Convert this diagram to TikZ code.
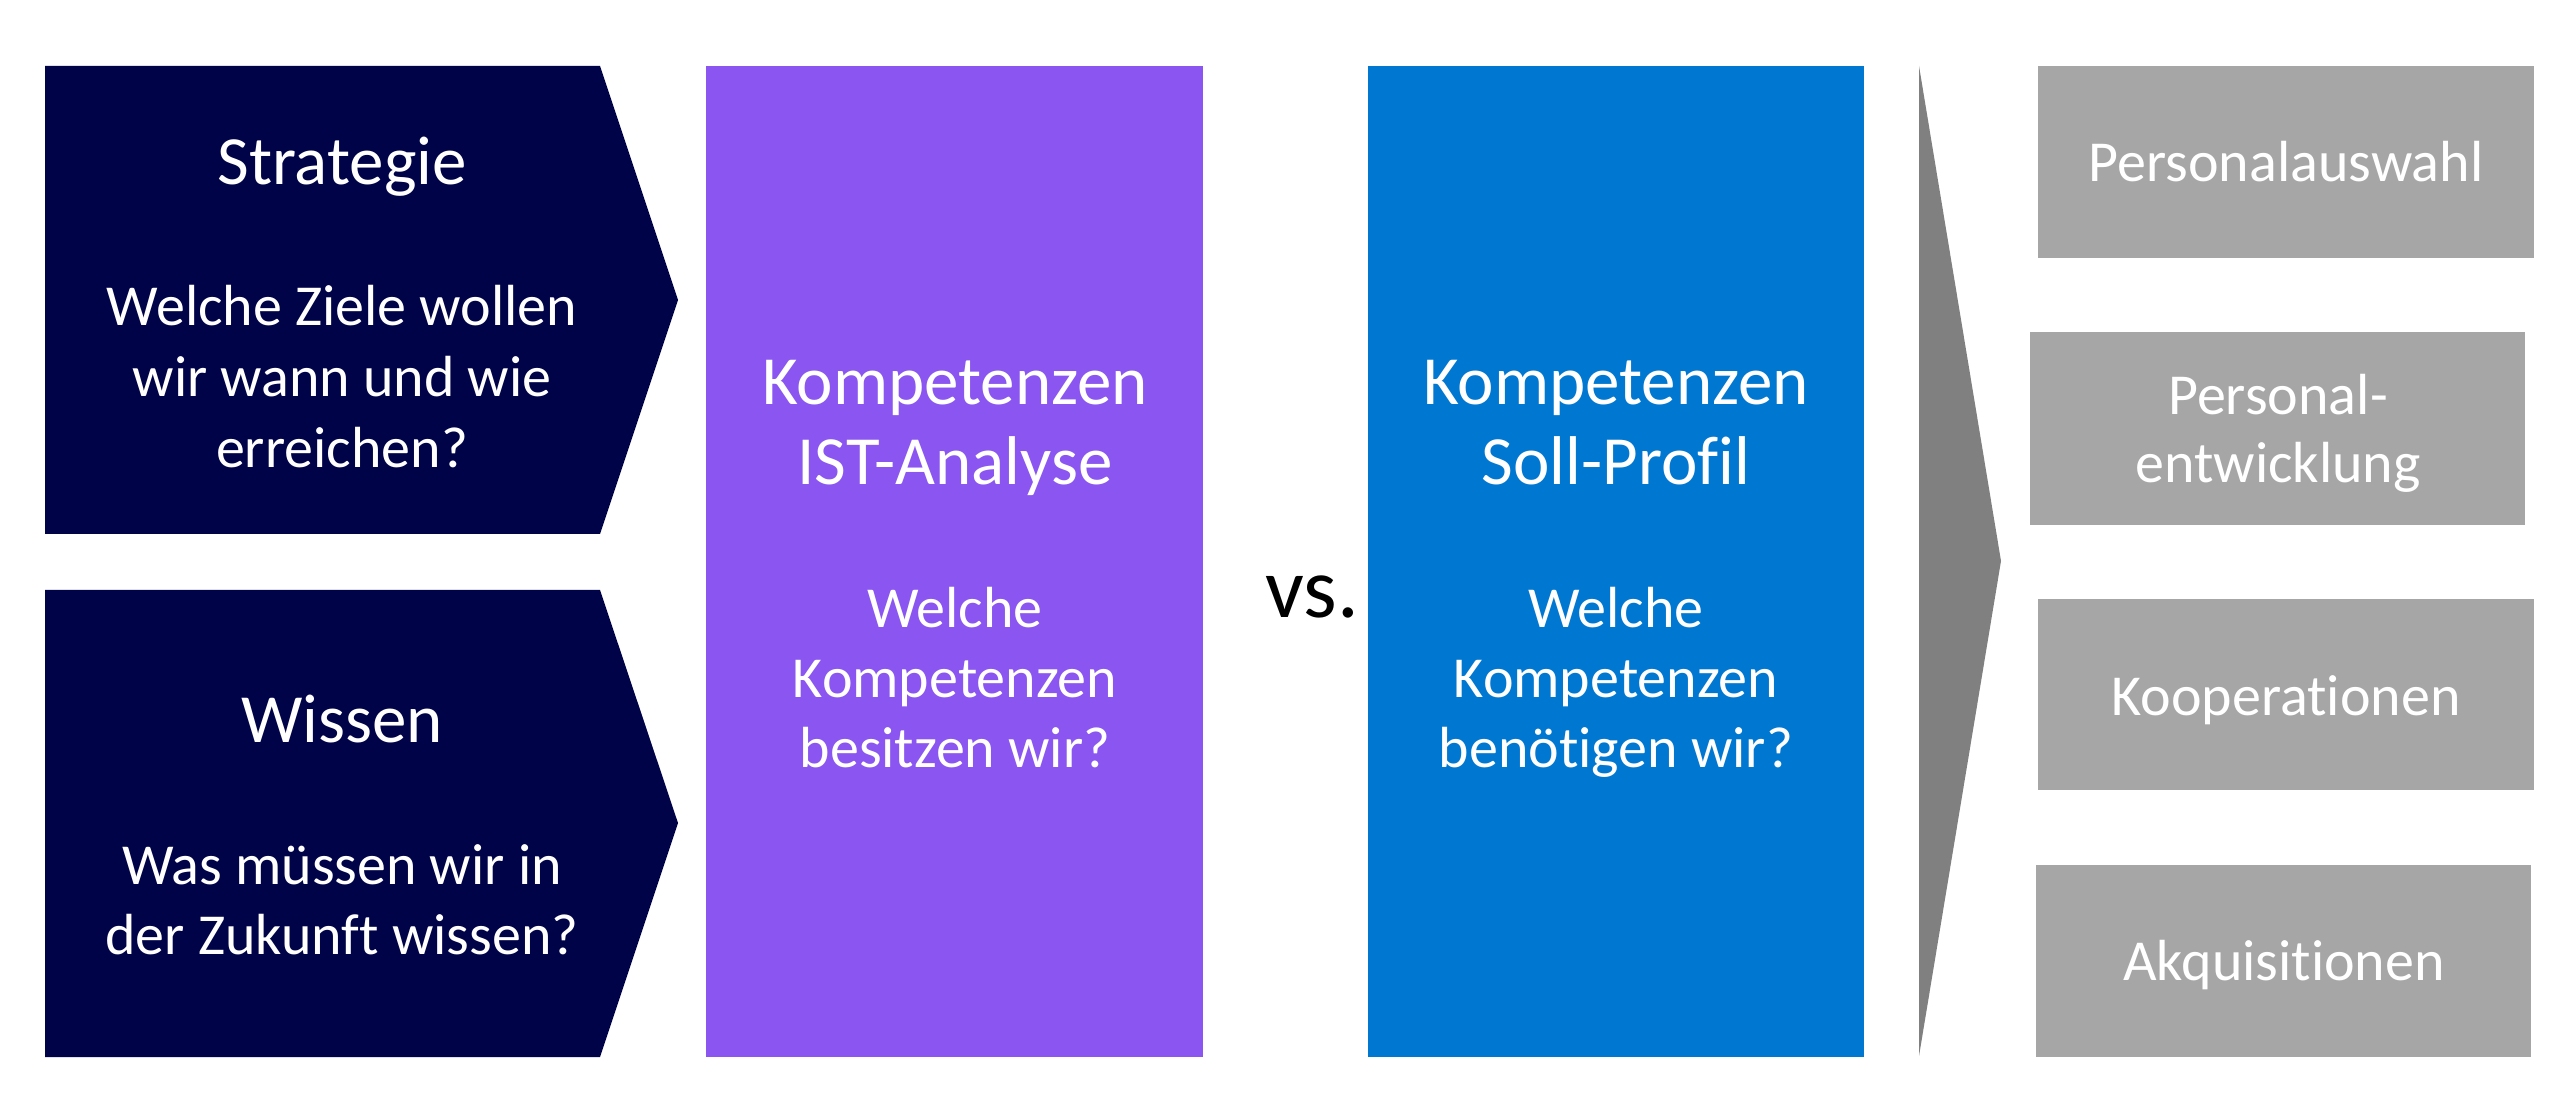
\documentclass[tikz,border=0pt]{standalone}
\usepackage{fontspec}
\setmainfont{Carlito}[Ligatures=NoCommon]
\definecolor{navy}{RGB}{0,3,72}
\definecolor{lila}{RGB}{138,85,240}
\definecolor{blau}{RGB}{0,120,210}
\definecolor{grau}{RGB}{166,166,166}
\definecolor{keil}{RGB}{128,128,128}
\newcommand\blk[3]{\fontsize{#1}{#2}\selectfont\begin{tabular}[t]{@{}c@{}}#3\end{tabular}}
\tikzset{
  txt/.style={anchor=base, inner sep=0pt, text=white},
  ttl/.style={txt, font=\fontsize{34.5}{40}\selectfont},
  bdy/.style={txt},
}
\begin{document}
\begin{tikzpicture}[x=0.5pt,y=-0.5pt]
\useasboundingbox (0,0) rectangle (2560,1106);
% left chevrons
\fill[navy] (45,66) -- (600,66) -- (678,300) -- (600,534) -- (45,534) -- cycle;
\fill[navy] (45,590) -- (600,590) -- (678,823) -- (600,1057) -- (45,1057) -- cycle;
% columns
\fill[lila] (706,66) rectangle (1203,1057);
\fill[blau] (1368,66) rectangle (1864,1057);
% wedge
\fill[keil] (1919,66) -- (2001,561) -- (1919,1056) -- cycle;
% gray boxes
\fill[grau] (2038,66) rectangle (2534,258);
\fill[grau] (2030,332) rectangle (2525,525);
\fill[grau] (2038,599) rectangle (2534,790);
\fill[grau] (2036,865) rectangle (2531,1057);
% texts
\node[ttl] (strat) at (342,185) {Strategie};
\node[bdy] (stratq) at (342,326) {\blk{29}{35.5}{Welche Ziele wollen\\wir wann und wie\\erreichen?}};
\node[ttl] (wiss) at (342,742) {Wissen};
\node[bdy] (wissq) at (342,884) {\blk{29}{35}{Was müssen wir in\\der Zukunft wissen?}};
\node[bdy] (ist) at (955,405) {\blk{34.5}{40}{Kompetenzen\\IST-Analyse}};
\node[bdy] (istq) at (955,628) {\blk{29}{35}{Welche\\Kompetenzen\\besitzen wir?}};
\node[bdy] (soll) at (1616,405) {\blk{34.5}{40}{Kompetenzen\\Soll-Profil}};
\node[bdy] (sollq) at (1616,628) {\blk{29}{35}{Welche\\Kompetenzen\\benötigen wir?}};
\node[anchor=base, inner sep=0pt, font=\fontsize{43}{50}\selectfont] (vs) at (1312,618) {vs.};
\node[bdy] (pa) at (2286,182) {\blk{29}{35}{Personalauswahl}};
\node[bdy] (pe) at (2278,415) {\blk{29}{34}{Personal-\\entwicklung}};
\node[bdy] (ko) at (2286,716) {\blk{29}{35}{Kooperationen}};
\node[bdy] (ak) at (2284,980) {\blk{29}{35}{Akquisitionen}};
\end{tikzpicture}
\end{document}
